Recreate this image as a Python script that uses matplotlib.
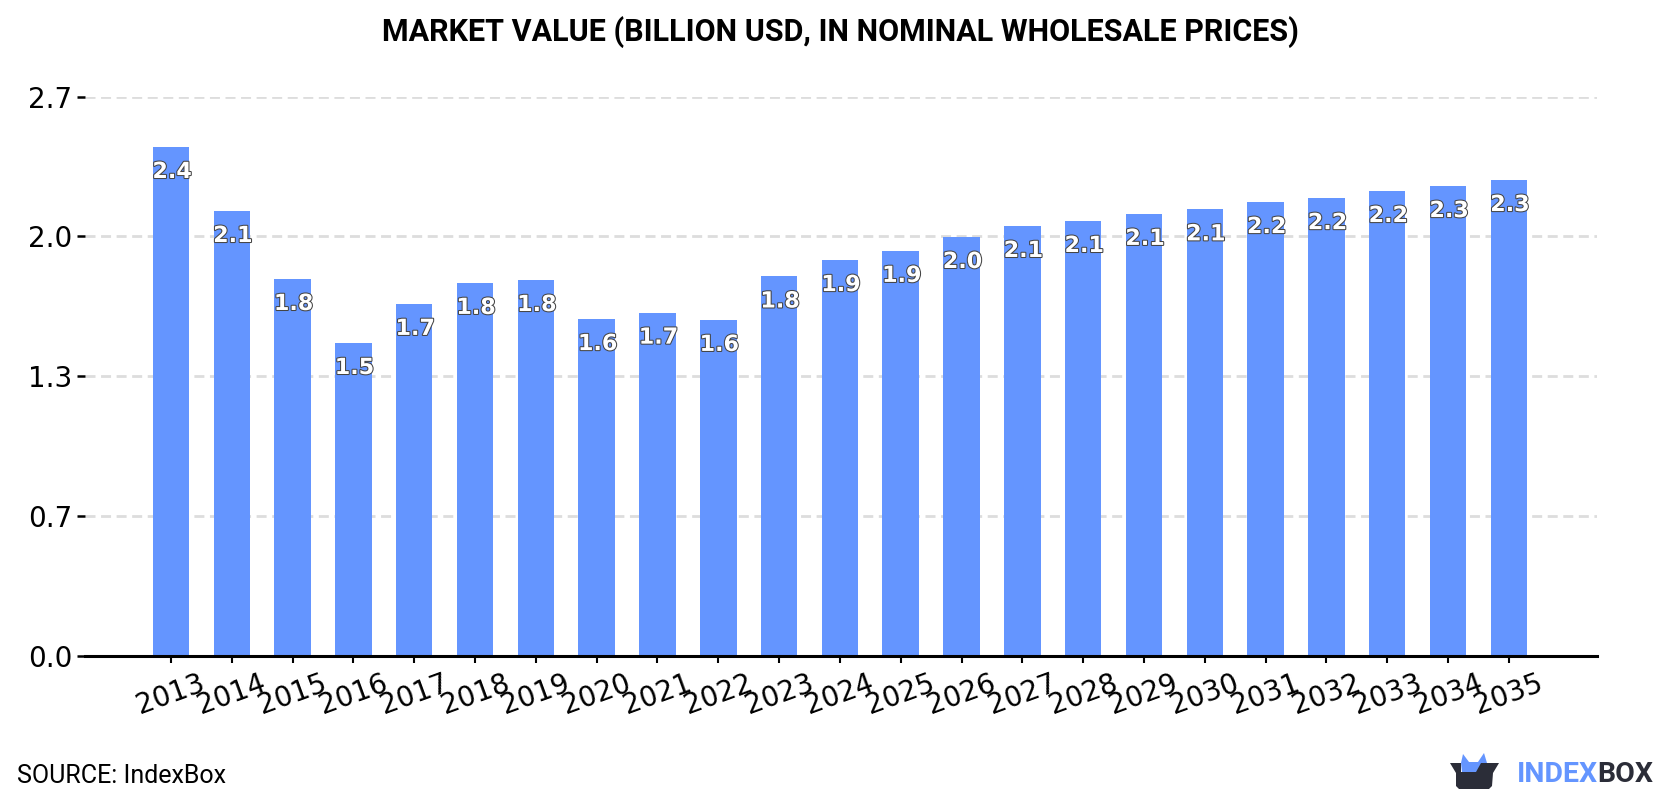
import numpy as np
import matplotlib
matplotlib.use("Agg")
from matplotlib import pyplot as plt
from matplotlib import patheffects as pe
from matplotlib.patches import Polygon

years = list(range(2013, 2036))
values = [2.449, 2.141, 1.814, 1.506, 1.694, 1.795, 1.809, 1.621, 1.652, 1.617,
          1.826, 1.905, 1.949, 2.016, 2.069, 2.093, 2.127, 2.149, 2.184, 2.203,
          2.237, 2.261, 2.290]
y_ticks = [0.0, 0.673, 1.346, 2.019, 2.692]

BLUE = "#6495ff"
DARK = "#2b2d38"
W, H = 1680, 800

fig = plt.figure(figsize=(W / 100, H / 100), dpi=100)
ax = fig.add_axes([85 / W, 1 - 656 / H, (1597 - 85) / W, (656 - 96.5) / H])

x = np.arange(len(years))
ax.bar(x, values, width=0.6, color=BLUE, zorder=2)

for xi, v in zip(x, values):
    ax.annotate(f"{v:.1f}", (xi, v), xytext=(1, -25), textcoords="offset pixels",
                ha="center", va="center", color="white", fontsize=16,
                fontweight="bold", zorder=3,
                path_effects=[pe.withStroke(linewidth=1.5, foreground="#444444")])

ax.set_xlim(-1.414, 23.45)
ax.set_ylim(0, y_ticks[-1])
ax.set_yticks(y_ticks, [f"{t:.1f}" for t in y_ticks])
ax.set_xticks(x, years, rotation=20, ha="center")
ax.tick_params(axis="y", labelsize=20, length=5.5, width=1.8, pad=3.6)
ax.tick_params(axis="x", labelsize=20, length=5, width=1.5, pad=4.5)
ax.grid(axis="y", color="#dddddd", linewidth=2, linestyle=(0, (3.6, 2)), zorder=1)
for side in ["top", "right", "left"]:
    ax.spines[side].set_visible(False)
ax.spines["bottom"].set_linewidth(2.2)

fig.text(0.5, 1 - 32 / H, "MARKET VALUE (BILLION USD, IN NOMINAL WHOLESALE PRICES)",
         ha="center", va="center", fontsize=22, fontweight="bold", family="Roboto")
fig.text(17 / W, 1 - 776 / H, "SOURCE: IndexBox", ha="left", va="center",
         fontsize=18, family="Roboto")

# logo: a box with blue flaps, then the two-colour wordmark
logo = fig.add_axes([0, 0, 1, 1], facecolor="none")
logo.set_xlim(0, W)
logo.set_ylim(H, 0)
logo.axis("off")
logo.add_patch(Polygon([[1461, 763], [1463, 754], [1469, 762], [1478, 762],
                        [1484, 753], [1487, 763], [1487, 770], [1478, 772],
                        [1462, 772]], color=BLUE, lw=0))
logo.add_patch(Polygon([[1450, 763], [1461, 763], [1461, 772], [1476, 772],
                        [1481, 763], [1499, 763], [1493, 773], [1492, 786],
                        [1489, 789], [1459, 789], [1456, 786], [1456, 773]],
                       color=DARK, lw=0))
logo.text(1517, 774, "INDEX", color=BLUE, fontsize=20.5, fontweight="bold",
          family="Roboto", ha="left", va="center")
logo.text(1597, 774, "BOX", color=DARK, fontsize=20.5, fontweight="bold",
          family="Roboto", ha="left", va="center")

fig.savefig("out.png", dpi=100)
